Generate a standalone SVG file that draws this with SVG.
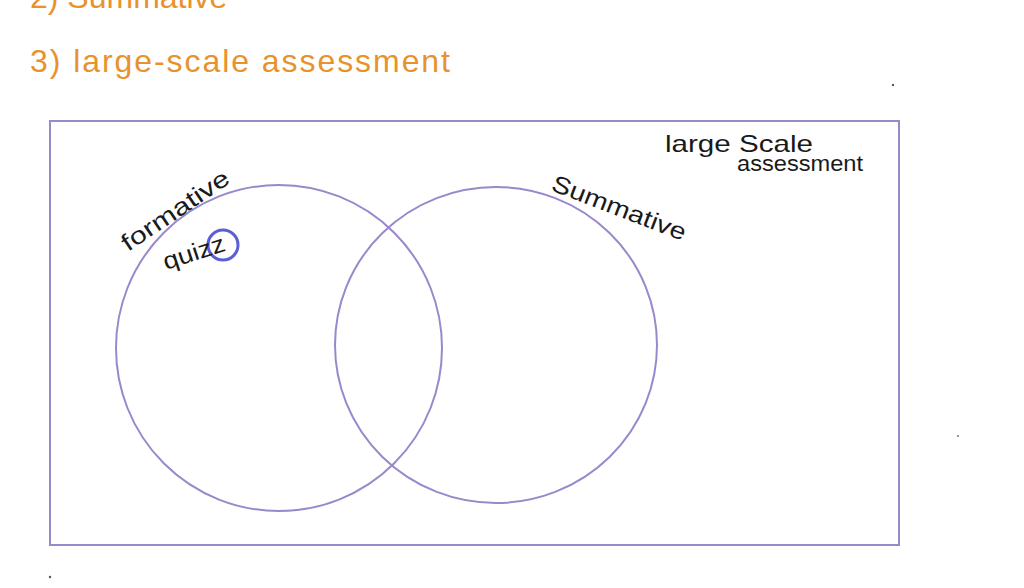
<svg xmlns="http://www.w3.org/2000/svg" width="1024" height="588" viewBox="0 0 1024 588">
<style>
.shape{fill:none;stroke:#9a88cc;stroke-width:2}
.ink{font-family:"Liberation Sans",sans-serif;fill:#1a1a1a;font-weight:300}
.orange{font-family:"Liberation Sans",sans-serif;fill:#e8922e}
</style>
<rect width="1024" height="588" fill="#ffffff"/>
<text class="orange" x="30" y="8" font-size="32">2) Summative</text>
<text class="orange" x="30" y="72" font-size="32" textLength="420" lengthAdjust="spacing">3) large-scale assessment</text>
<g id="frame"><rect class="shape" x="50" y="121" width="849" height="424"/></g>
<g id="formative-circle"><circle class="shape" cx="279" cy="348" r="163"/></g>
<g id="summative-circle"><ellipse class="shape" cx="496" cy="345" rx="161" ry="158"/></g>
<g id="quiz-mark"><circle cx="223" cy="245" r="15" fill="none" stroke="#5b5fd6" stroke-width="3"/></g>
<g id="labels">
<text class="ink" font-size="24" transform="translate(128,252) rotate(-34)" textLength="125" lengthAdjust="spacingAndGlyphs">formative</text>
<text class="ink" font-size="24" transform="translate(166,270) rotate(-18)" textLength="64" lengthAdjust="spacingAndGlyphs">quizz</text>
<text class="ink" font-size="24" transform="translate(550,190) rotate(21)" textLength="142" lengthAdjust="spacingAndGlyphs">Summative</text>
<text class="ink" font-size="24" x="665" y="152" textLength="148" lengthAdjust="spacingAndGlyphs">large Scale</text>
<text class="ink" font-size="22" x="737" y="171" textLength="126" lengthAdjust="spacingAndGlyphs">assessment</text>
</g>
<circle cx="893" cy="85" r="1.2" fill="#555"/>
<circle cx="958" cy="436" r="1" fill="#777"/>
<circle cx="50" cy="577" r="1.2" fill="#555"/>
</svg>
